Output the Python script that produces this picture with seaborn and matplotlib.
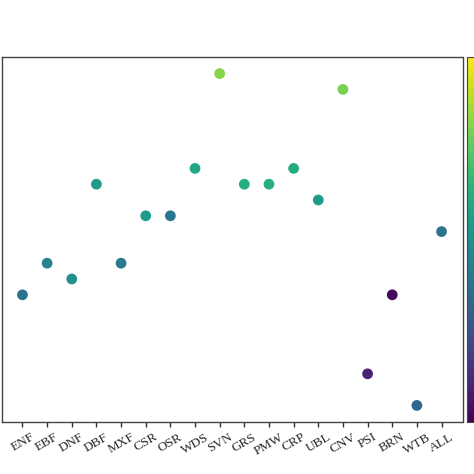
import matplotlib
matplotlib.use("Agg")
import matplotlib.pyplot as plt
import seaborn as sns
import pandas as pd
import numpy as np

categories = ["ENF", "EBF", "DNF", "DBF", "MXF", "CSR", "OSR", "WDS", "SVN",
              "GRS", "PMW", "CRP", "UBL", "CNV", "PSI", "BRN", "WTB", "ALL"]
values = [7, 9, 8, 14, 9, 12, 12, 15, 21, 14, 14, 15, 13, 20, 2, 7, 0, 11]
color_values = [0.38, 0.44, 0.50, 0.55, 0.41, 0.55, 0.39, 0.60, 0.82,
                0.62, 0.63, 0.61, 0.55, 0.80, 0.10, 0.02, 0.33, 0.38]

sns.set_style("white")
plt.rcParams['font.family'] = ['Liberation Serif', 'DejaVu Serif']

df = pd.DataFrame({"cat": categories, "x": np.arange(len(categories)),
                   "y": values, "c": color_values})

fig = plt.figure(figsize=(4.74, 4.74), dpi=100)
ax = fig.add_axes([1.5/474, 52/474, 461/474, 365/474])
cax = fig.add_axes([467/474, 52/474, 0.03, 365/474])

sns.scatterplot(data=df, x="x", y="y", hue="c", palette="viridis",
                hue_norm=(0, 1), s=60, edgecolor="none", legend=False, ax=ax)

ax.set_xticks(df["x"])
ax.set_xticklabels(categories, rotation=30, ha="center", fontsize=9.5)
ax.set_yticks([])
ax.set_xlabel("")
ax.set_ylabel("")
ax.tick_params(axis="x", direction="out", length=3.5, width=1, color="#333333", pad=3, bottom=True)
for sp in ax.spines.values():
    sp.set_color("#444444")
    sp.set_linewidth(1.0)

sm = plt.cm.ScalarMappable(cmap="viridis", norm=plt.Normalize(0, 1))
cb = fig.colorbar(sm, cax=cax)
cb.set_ticks([])
cb.outline.set_edgecolor("#444444")

fig.savefig("out.png", dpi=100)
